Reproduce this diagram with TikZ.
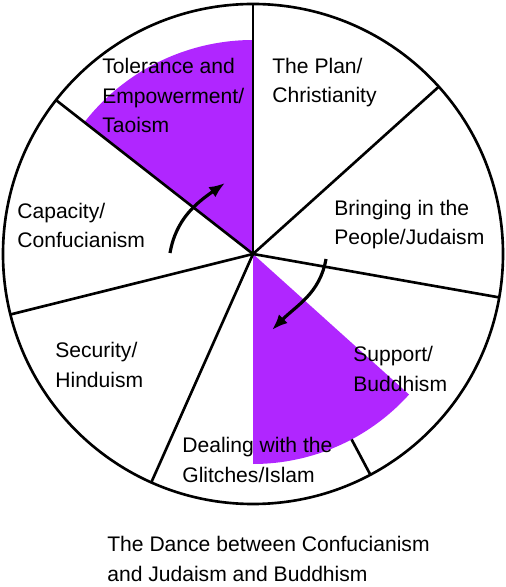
\documentclass[tikz,border=0pt]{standalone}
\usepackage{fontspec}
\setmainfont{Liberation Sans}
\usepackage{xcolor}
\usepackage{tikz}
\usetikzlibrary{calc, positioning, arrows.meta}
\definecolor{tim}{RGB}{176,38,255}
\tikzset{
    nhan/.style={anchor=base west, align=left, inner sep=0pt, font=\fontsize{12}{17}\selectfont},
    vien/.style={line width=1.5pt}
}

\begin{document}
\begin{tikzpicture}[>={Latex[length=9pt, width=7pt]}, x=0.02cm, y=0.02cm]
    \useasboundingbox (-253,-333) rectangle (252,254);
    % Hai hình quạt tô màu tím
    \fill[tim] (0,0) -- (90:214) arc (90:142:214) -- cycle;
    \fill[tim] (0,0) -- (-90:210) arc (-90:-42:210) -- cycle;

    % Đường tròn và các nan chia
    \draw[vien] (0,0) circle (250);
    \draw[vien] (0,0) -- (90:250);
    \draw[vien] (0,0) -- (42:250);
    \draw[vien] (0,0) -- (-10:250);
    \draw[vien] (-62:210) -- (-62:250);
    \draw[vien] (0,0) -- (-114:250);
    \draw[vien] (0,0) -- (-166:250);
    \draw[vien] (0,0) -- (142:250);

    % Nhãn các phần
    \node[nhan] (taoism) at (-151,121) {Tolerance and\\Empowerment/\\Taoism};
    \node[nhan] (plan) at (19,151) {The Plan/\\Christianity};
    \node[nhan] (judaism) at (81,9) {Bringing in the\\People/Judaism};
    \node[nhan] (confucian) at (-236,6) {Capacity/\\Confucianism};
    \node[nhan] (hindu) at (-198,-133) {Security/\\Hinduism};
    \node[nhan] (buddhism) at (100,-137) {Support/\\Buddhism};
    \node[nhan] (islam) at (-71,-228) {Dealing with the\\Glitches/Islam};

    % Mũi tên cong
    \coordinate (a1) at (-83,1);
    \coordinate (a2) at (-28,71);
    \coordinate (b1) at (73,-5);
    \coordinate (b2) at (19,-76);
    \draw[->, line width=1.8pt] (a1) to[out=80, in=215] (a2);
    \draw[->, line width=1.8pt] (b1) to[out=-100, in=45] (b2);

    % Chú thích
    \node[nhan] (caption) at (-146,-327) {The Dance between Confucianism\\and Judaism and Buddhism};
\end{tikzpicture}
\end{document}
